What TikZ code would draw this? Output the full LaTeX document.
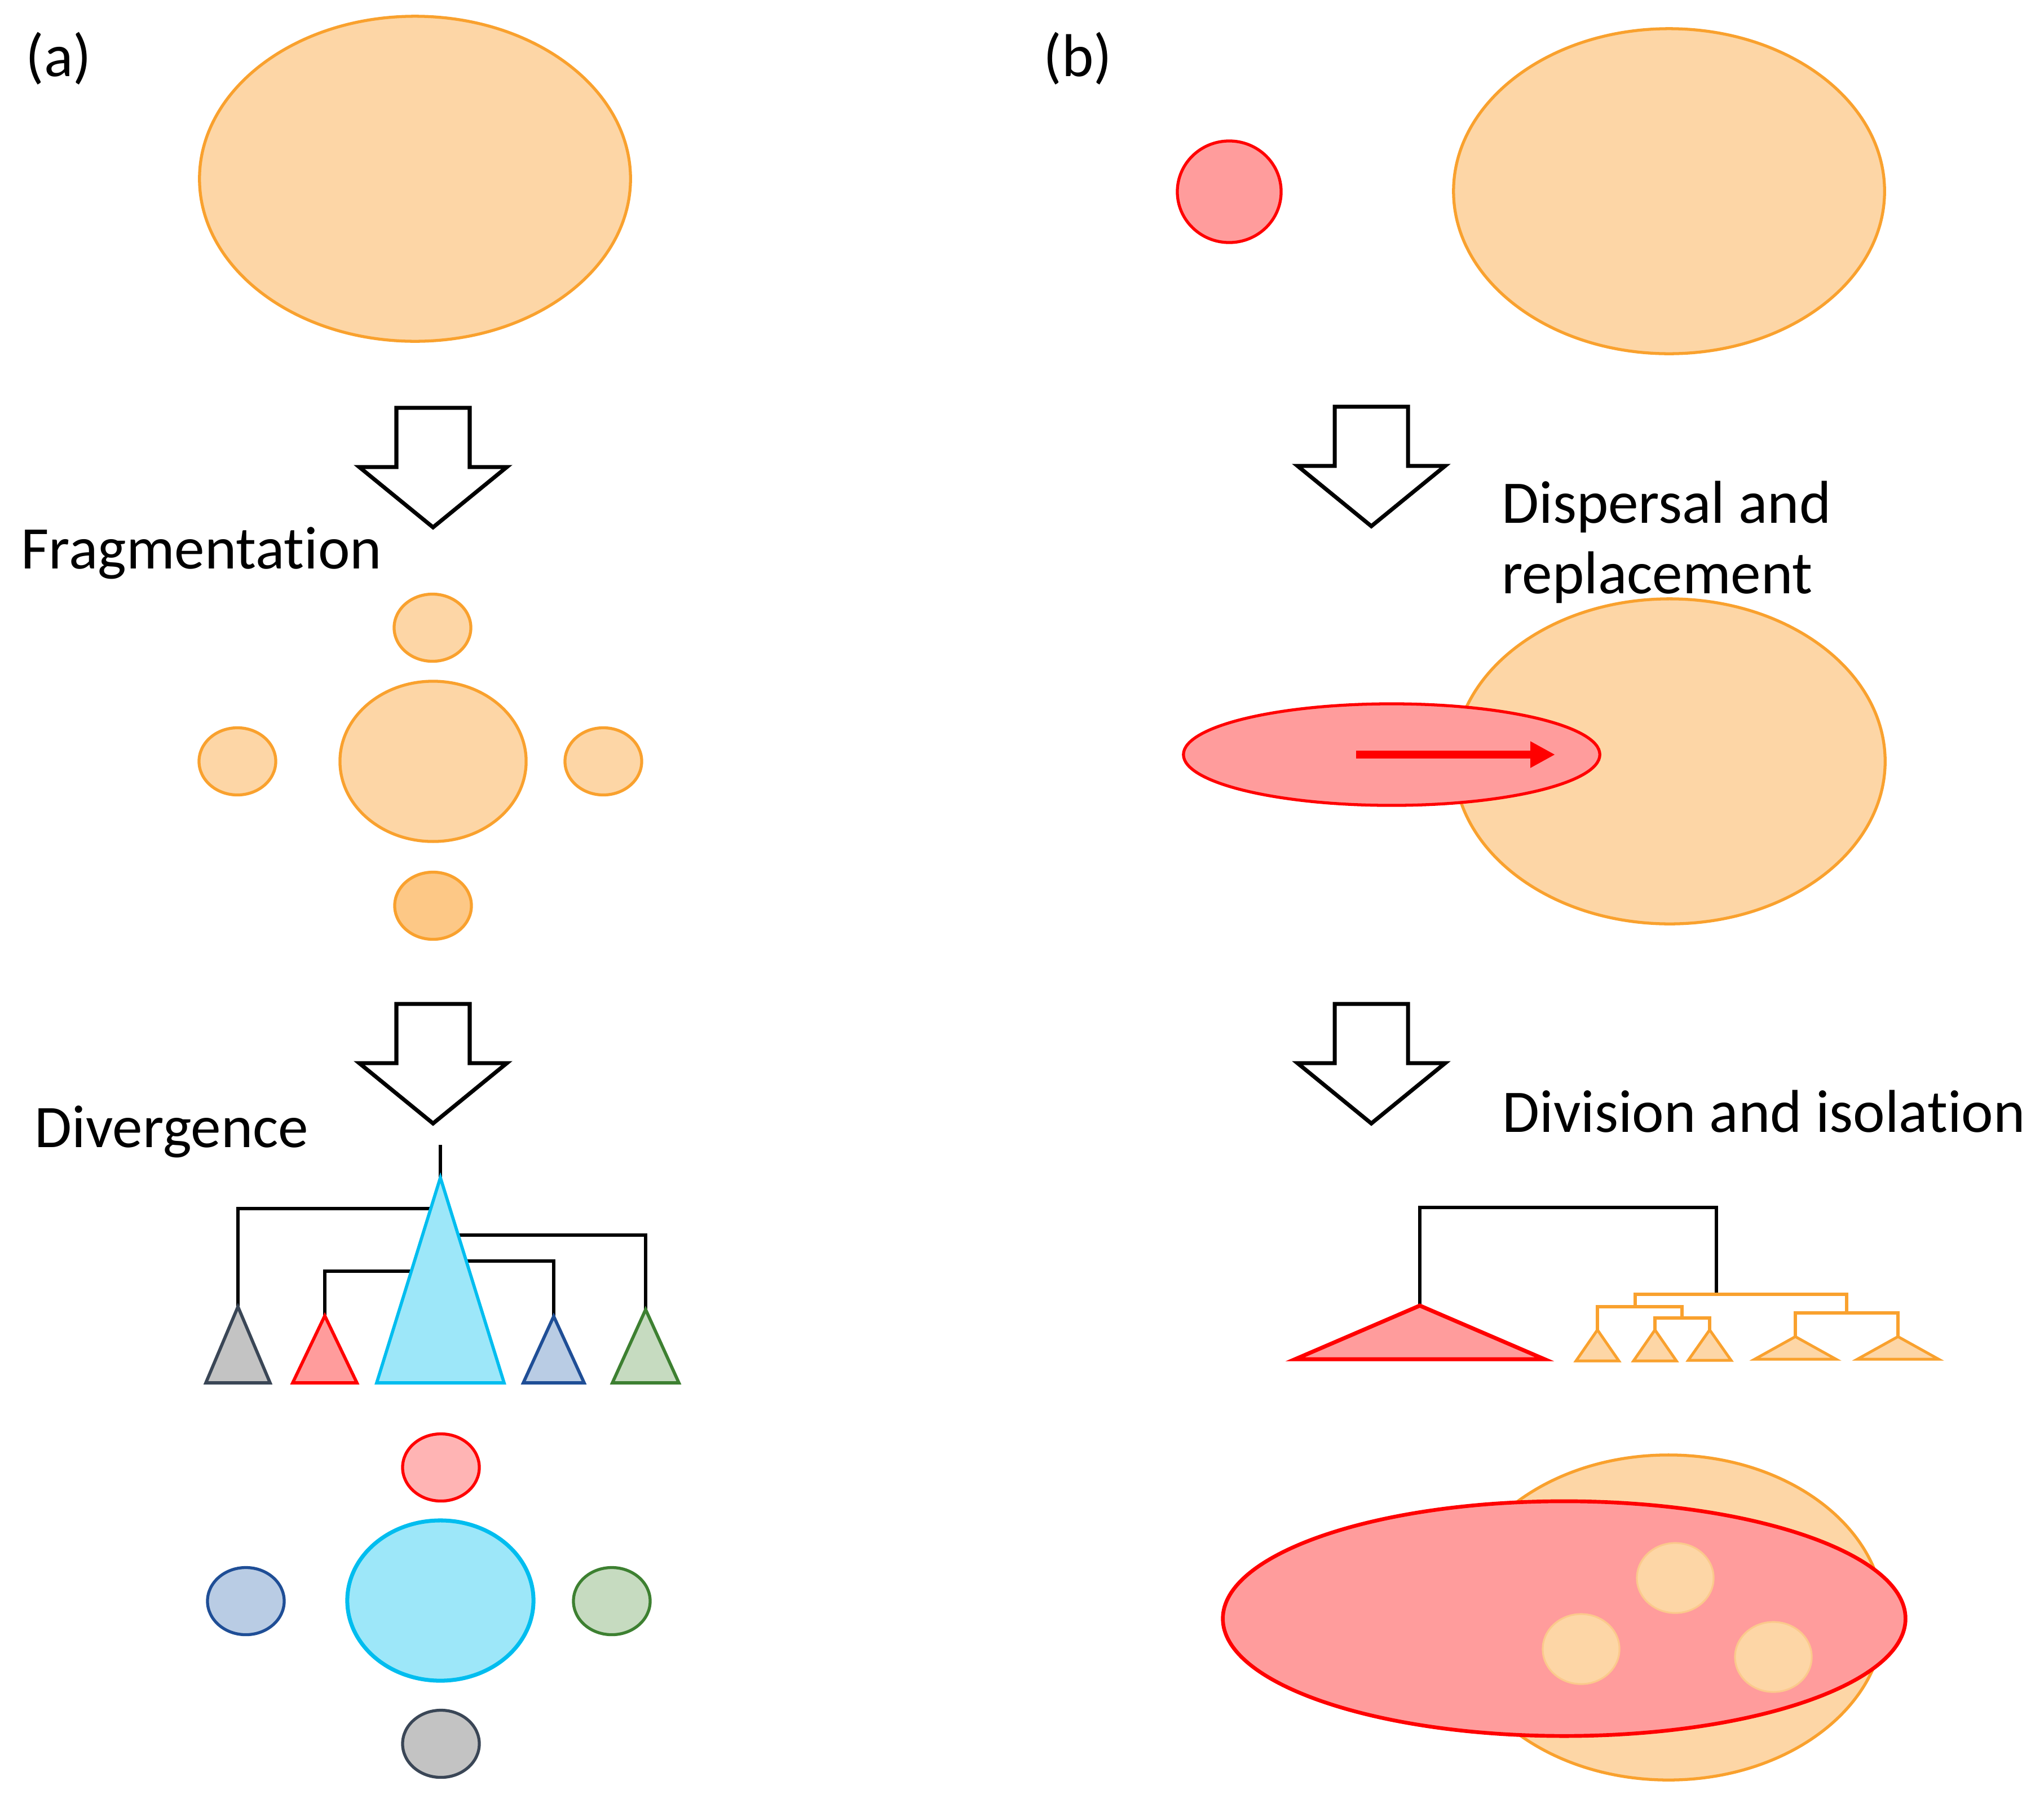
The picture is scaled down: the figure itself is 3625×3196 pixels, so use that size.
\documentclass[tikz,border=0pt]{standalone}
\usepackage{fontspec}
\setmainfont{Carlito}[Ligatures={NoCommon,NoContextual,NoRequired}]
\usetikzlibrary{shapes.geometric,arrows.meta}

\definecolor{forg}{HTML}{FDD6A6}
\definecolor{fdorg}{HTML}{FDC886}
\definecolor{lorg}{HTML}{F9A12E}
\definecolor{lpale}{HTML}{FBC98C}
\definecolor{fred}{HTML}{FF9C9C}
\definecolor{fpink}{HTML}{FFB4B4}
\definecolor{lred}{HTML}{FF0000}
\definecolor{fcyan}{HTML}{9DE7F9}
\definecolor{lcyan}{HTML}{00BDEF}
\definecolor{fblue}{HTML}{B9CCE4}
\definecolor{lblue}{HTML}{1F4E96}
\definecolor{fgreen}{HTML}{C6DBC0}
\definecolor{lgreen}{HTML}{3D8031}
\definecolor{fgray}{HTML}{C3C3C3}
\definecolor{lgray}{HTML}{3A4656}

\begin{document}
\begin{tikzpicture}[x=0.01cm,y=-0.01cm,
  blob/.style={ellipse,inner sep=0pt,line width=1.5pt},
  org/.style={blob,draw=lorg,fill=forg},
  rd/.style={blob,draw=lred,fill=fred},
  isle/.style={minimum width=1.36cm,minimum height=1.19cm},
  core/.style={minimum width=3.3cm,minimum height=2.84cm},
  land/.style={minimum width=7.64cm,minimum height=5.76cm},
  caption/.style={font=\fontsize{30.5}{35.5}\selectfont,anchor=base west,inner sep=0pt,align=left},
  blockarrow/.style={draw=black,fill=white,line width=2pt,line join=miter},
  branch/.style={line width=1.7pt},
  obranch/.style={line width=1.5pt,draw=lorg},
  tri/.style={line width=1.6pt,line join=miter}]

  \useasboundingbox (0,0) rectangle (3625,3196);

  \node[caption] (la) at (45,135) {(a)};
  \node[caption] (lb) at (1850,135) {(b)};
  \node[caption] (l1) at (37,1008) {Fragmentation};
  \node[caption] (l2) at (61,2034) {Divergence};
  \node[caption] (l3) at (2663,1052) {Dispersal and\\replacement};
  \node[caption] (l4) at (2664,2007) {Division and isolation};

  \foreach \ax/\ay in {768/723,768/1780,2432/721,2432/1780}
    \draw[blockarrow] (\ax-65,\ay) -- (\ax+65,\ay) -- (\ax+65,\ay+105) -- (\ax+131,\ay+105)
      -- (\ax,\ay+212) -- (\ax-131,\ay+105) -- (\ax-65,\ay+105) -- cycle;

  \node[org,land] (a0) at (736,317) {};
  \node[org,core] (a1) at (768,1350) {};
  \node[org,isle] (a2) at (767,1113) {};
  \node[org,isle] (a3) at (421,1350) {};
  \node[org,isle] (a4) at (1070,1350) {};
  \node[org,isle,fill=fdorg] (a5) at (768,1606) {};

  \foreach \n/\x/\y in {tc/781/2088,tg/422/2317,tr/576/2333,tb/982/2334,tgr/1145/2322,
      top/781/2030,j1/781/2143,j2/781/2190,j3/781/2236,j4/781/2254}
    \coordinate (\n) at (\x,\y);
  \draw[branch] (top) -- (tc);
  \draw[branch] (tg) |- (j1);
  \draw[branch] (tgr) |- (j2);
  \draw[branch] (tb) |- (j3);
  \draw[branch] (tr) |- (j4);
  \foreach \n/\w/\h/\c in {tc/113/364/cyan,tg/57/135/gray,tr/57/119/red,tb/54/118/blue,tgr/59/130/green}
    \draw[tri,draw=l\c,fill=f\c] (\n) -- ++(\w,\h) -- ++(-2*\w,0) -- cycle;

  \node[blob,core,draw=lcyan,fill=fcyan,line width=2pt] (c1) at (781,2838) {};
  \node[blob,isle,draw=lred,fill=fpink] (c2) at (782,2602) {};
  \node[blob,isle,draw=lblue,fill=fblue] (c3) at (436,2839) {};
  \node[blob,isle,draw=lgreen,fill=fgreen] (c4) at (1085,2839) {};
  \node[blob,isle,draw=lgray,fill=fgray] (c5) at (782,3092) {};

  \node[rd,minimum width=1.84cm,minimum height=1.8cm] (b0) at (2180,340) {};
  \node[org,land] (b1) at (2960,339) {};

  \node[org,land] (b2) at (2961,1350) {};
  \node[rd,minimum width=7.38cm,minimum height=1.8cm] (b3) at (2468,1338) {};
  \coordinate (go) at (2405,1338);
  \coordinate (gone) at (2758,1338);
  \draw[lred,line width=4pt,-{Triangle[length=12.5pt,width=12.5pt]}] (go) -- (gone);

  \foreach \n/\x/\y in {tR/2518/2315,t1/2833/2358,t2/2935/2358,t3/3032/2358,t4/3184/2370,t5/3366/2370,
      kR/3044/2141,ob/3044/2295,p1/2900/2317,p2/3275/2328,p3/2983/2337}
    \coordinate (\n) at (\x,\y);
  \draw[branch] (tR) |- (kR) -- (ob);
  \draw[obranch] (p1) |- (ob) -| (p2);
  \draw[obranch] (t1) |- (p1) -| (p3);
  \draw[obranch] (t2) |- (p3) -| (t3);
  \draw[obranch] (t4) |- (p2) -| (t5);
  \draw[tri,draw=lred,fill=fred,line width=2pt] (tR) -- ++(221,95) -- ++(-442,0) -- cycle;
  \foreach \n/\w/\h in {t1/38/55,t2/38/55,t3/38/54,t4/72/40,t5/72/40}
    \draw[tri,draw=lorg,fill=forg,line width=1.4pt] (\n) -- ++(\w,\h) -- ++(-2*\w,0) -- cycle;

  \node[org,land] (d1) at (2959,2868) {};
  \node[rd,line width=1.9pt,minimum width=12.1cm,minimum height=4.16cm] (d2) at (2774,2870) {};
  \foreach \n/\x/\y in {d3/2971/2798,d4/2804/2924,d5/3145/2938}
    \node[blob,isle,draw=lpale,fill=forg,line width=0.9pt,minimum height=1.24cm] (\n) at (\x,\y) {};

\end{tikzpicture}
\end{document}
